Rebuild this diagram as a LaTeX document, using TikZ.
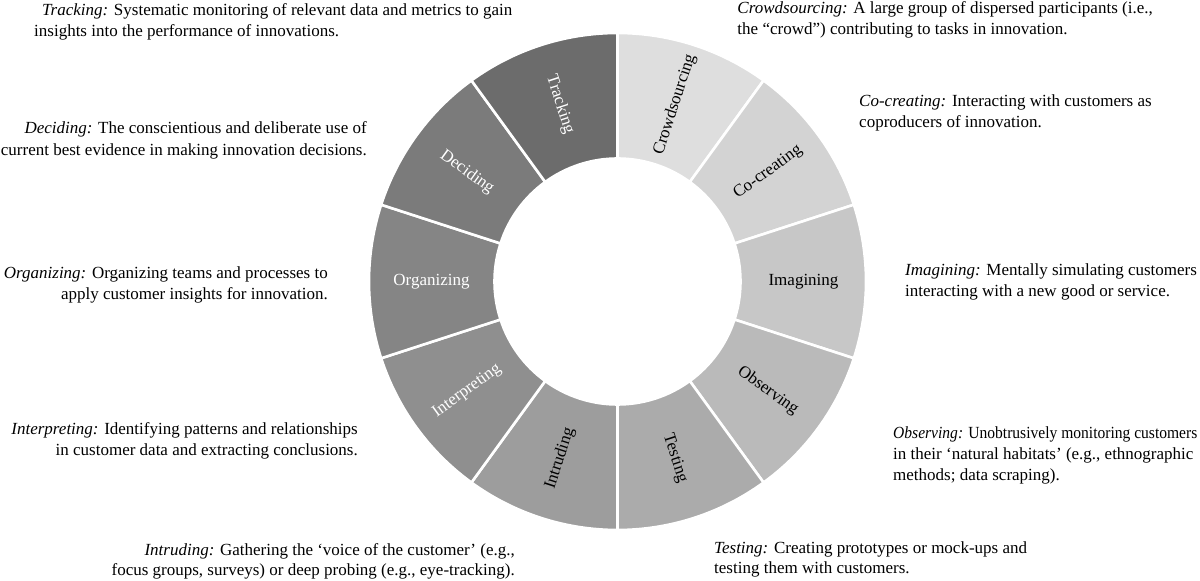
\documentclass[tikz,border=0pt]{standalone}
\usepackage{graphicx}
\usepackage{fontspec}
\setmainfont{Liberation Serif}
\definecolor{cCrowd}{gray}{0.871}
\definecolor{cCo}{gray}{0.827}
\definecolor{cImag}{gray}{0.780}
\definecolor{cObs}{gray}{0.729}
\definecolor{cTest}{gray}{0.671}
\definecolor{cIntr}{gray}{0.616}
\definecolor{cInterp}{gray}{0.561}
\definecolor{cOrg}{gray}{0.522}
\definecolor{cDec}{gray}{0.482}
\definecolor{cTrack}{gray}{0.425}
\begin{document}
\begin{tikzpicture}[x=1pt,y=1pt,
  seg/.style={draw=white, line width=2.6pt, line join=miter},
  lbl/.style={font=\fontsize{17}{20}\selectfont, inner sep=0pt},
  desc/.style={font=\fontsize{17}{21}\selectfont, inner sep=0pt}]
\useasboundingbox (0,0) rectangle (1200,581);
\begin{scope}[shift={(617.5,299.5)}]
\foreach \s/\e/\c/\tc/\r/\nm/\txt in {
  54/90/cCrowd/black/72/crowd/Crowdsourcing,
  18/54/cCo/black/36/cocr/Co-creating,
  -18/18/cImag/black/0/imag/Imagining,
  -54/-18/cObs/black/-36/obs/Observing,
  -90/-54/cTest/black/-72/test/Testing,
  -126/-90/cIntr/black/72/intr/Intruding,
  -162/-126/cInterp/white/36/interp/Interpreting,
  162/198/cOrg/white/0/org/Organizing,
  126/162/cDec/white/-36/dec/Deciding,
  90/126/cTrack/white/-72/track/Tracking}{
  \filldraw[seg, fill=\c] (\s:248.5) arc[start angle=\s, end angle=\e, radius=248.5]
     -- (\e:123) arc[start angle=\e, end angle=\s, radius=123] -- cycle;
  \pgfmathsetmacro{\m}{(\s+\e)/2}
  \node[lbl, text=\tc, rotate=\r] (lab-\nm) at (\m:186) {\txt};
}
\end{scope}
% left descriptions
\node[desc, anchor=base west] (track1) at (42,565) {\textit{Tracking:} Systematic monitoring of relevant data and metrics to gain};
\node[desc, anchor=base west] (track2) at (34,544) {insights into the performance of innovations.};
\node[desc, anchor=base east] (dec1) at (367,447) {\textit{Deciding:} The conscientious and deliberate use of};
\node[desc, anchor=base east] (dec2) at (367,425) {current best evidence in making innovation decisions.};
\node[desc, anchor=base east] (org1) at (328,302) {\textit{Organizing:} Organizing teams and processes to};
\node[desc, anchor=base east] (org2) at (328,281) {apply customer insights for innovation.};
\node[desc, anchor=base east] (interp1) at (358,146) {\textit{Interpreting:} Identifying patterns and relationships};
\node[desc, anchor=base east] (interp2) at (358,125) {in customer data and extracting conclusions.};
\node[desc, anchor=base east] (intr1) at (515,25) {\textit{Intruding:} Gathering the ‘voice of the customer’ (e.g.,};
\node[desc, anchor=base east] (intr2) at (515,5) {focus groups, surveys) or deep probing (e.g., eye-tracking).};
% right descriptions
\node[desc, anchor=base east] (crowd1) at (1153,567) {\textit{Crowdsourcing:} A large group of dispersed participants (i.e.,};
\node[desc, anchor=base west] (crowd2) at (crowd1.base west) [yshift=-21pt] {the “crowd”) contributing to tasks in innovation.};
\node[desc, anchor=base west] (cocr1) at (859,474) {\textit{Co-creating:} Interacting with customers as};
\node[desc, anchor=base west] (cocr2) at (859,453) {coproducers of innovation.};
\node[desc, anchor=base west] (imag1) at (905,305) {\textit{Imagining:} Mentally simulating customers};
\node[desc, anchor=base west] (imag2) at (905,284) {interacting with a new good or service.};
\node[desc, anchor=base west] (obs1) at (893,142) {\scalebox{0.915}[1]{\textit{Observing:} Unobtrusively monitoring customers}};
\node[desc, anchor=base west] (obs2) at (893,121) {in their ‘natural habitats’ (e.g., ethnographic};
\node[desc, anchor=base west] (obs3) at (893,100) {methods; data scraping).};
\node[desc, anchor=base west] (test1) at (714,27) {\textit{Testing:} Creating prototypes or mock-ups and};
\node[desc, anchor=base west] (test2) at (714,7) {testing them with customers.};
\end{tikzpicture}
\end{document}
